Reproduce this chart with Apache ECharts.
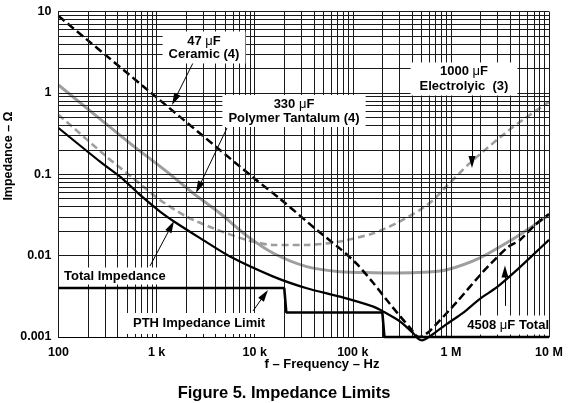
<!DOCTYPE html>
<html><head><meta charset="utf-8">
<script src="https://cdn.jsdelivr.net/npm/echarts@6/dist/echarts.min.js"></script>
<style>html,body{margin:0;padding:0;background:#fff}#c{width:572px;height:403px}</style>
</head><body><div id="c"></div>
<script>
// ---- axis ticks ----
const xTickValues = [100, 1e3, 1e4, 1e5, 1e6, 1e7];
const xTickLabels = ['100', '1 k', '10 k', '100 k', '1 M', '10 M'];
const yTickValues = [0.001, 0.01, 0.1, 1, 10];
const yTickLabels = ['0.001', '0.01', '0.1', '1', '10'];
const xDecades = [100, 1e3, 1e4, 1e5, 1e6];
const yDecades = [0.001, 0.01, 0.1, 1];
const gridMultipliers = [1, 2, 3, 4, 5, 6, 7, 8, 9];

// ---- series (frequency Hz, impedance Ohm) ----
const ceramicF = [100, 1000, 10000, 18100, 42900, 74000, 110000, 162000, 222000, 303000, 383000, 440000, 480000, 530000, 612000, 1150000, 2120000, 3730000, 5060000, 7200000, 10000000];
const ceramicZ = [8.8, 0.88, 0.088, 0.05, 0.0207, 0.0122, 0.0079, 0.0046, 0.00285, 0.0018, 0.0013, 0.00105, 0.001, 0.00105, 0.00119, 0.0027, 0.0063, 0.01245, 0.0156, 0.0238, 0.0325];

const tantalumF = [100, 537, 1268, 2366, 4426, 8350, 15500, 33900, 74000, 162000, 282000, 600000, 912000, 1980000, 4300000, 6400000, 10000000];
const tantalumZ = [1.25, 0.24, 0.1077, 0.0583, 0.0332, 0.0175, 0.0107, 0.00733, 0.00635, 0.00618, 0.0061, 0.0063, 0.0067, 0.0094, 0.016, 0.0219, 0.0316];

const electroF = [100, 310, 578, 1084, 2028, 3786, 8280, 15500, 33900, 74000, 162000, 282000, 484000, 662000, 831000, 1570000, 4300000, 10000000];
const electroZ = [0.54, 0.164, 0.0893, 0.0483, 0.0301, 0.0217, 0.0156, 0.0135, 0.0135, 0.0149, 0.0188, 0.0252, 0.0364, 0.0483, 0.0641, 0.138, 0.381, 0.775];

const totalF = [100, 265, 424, 678, 1084, 1603, 2775, 5610, 15500, 33900, 74000, 162000, 205000, 303000, 414000, 466000, 510000, 560000, 620000, 912000, 1330000, 1980000, 2950000, 4720000, 6870000, 10000000];
const totalZ = [0.37, 0.143, 0.0935, 0.0557, 0.0348, 0.025, 0.0164, 0.00973, 0.00552, 0.00397, 0.00313, 0.00236, 0.00205, 0.00155, 0.00111, 0.00095, 0.00091, 0.00095, 0.00103, 0.00145, 0.00198, 0.00294, 0.00409, 0.00667, 0.0102, 0.0156];

const pthF = [100, 20000, 21000, 200000, 210000, 10000000];
const pthZ = [0.004, 0.004, 0.002, 0.002, 0.001, 0.001];

// ---- annotation arrows: [fromF, fromZ, toF, toZ] ----
const arrowCeramic = [2350, 2.33, 1529, 0.827];
const arrowTantalum = [5225, 0.371, 2680, 0.0687];
const arrowElectro = [1640000, 0.942, 1640000, 0.1416];
const arrowTotal = [857, 0.00746, 1409, 0.02297];
const arrowPTH = [9616, 0.00209, 12590, 0.0033];
const arrowTotalCap = [3556000, 0.00241, 3556000, 0.0064];

const FONT = '"Liberation Sans", Arial, Helvetica, sans-serif';
const GRAY = '#9e9e9e';

function zip(f, z) { return f.map((v, i) => [v, z[i]]); }
function lookup(values, labels) {
  return function (v) {
    for (let i = 0; i < values.length; i++) {
      if (Math.abs(Math.log10(v) - Math.log10(values[i])) < 1e-6) return labels[i];
    }
    return '';
  };
}
const xGrid = [], yGrid = [];
xDecades.forEach(d => gridMultipliers.forEach(m => xGrid.push(m * d)));
xGrid.push(xTickValues[xTickValues.length - 1]);
yDecades.forEach(d => gridMultipliers.forEach(m => yGrid.push(m * d)));
yGrid.push(yTickValues[yTickValues.length - 1]);

function arrow(a) {
  return [{ coord: [a[0], a[1]], symbol: 'none' }, { coord: [a[2], a[3]], symbol: 'triangle' }];
}

const chart = echarts.init(document.getElementById('c'), null, { renderer: 'canvas' });
chart.setOption({
  animation: false,
  backgroundColor: '#fff',
  grid: { left: 58.5, right: 23, top: 11.5, bottom: 66, containLabel: false, outerBoundsMode: 'none', show: false },
  xAxis: {
    type: 'log', logBase: 10, min: 100, max: 1e7, splitNumber: 5,
    axisLine: { show: true, onZero: false, lineStyle: { color: '#000', width: 1 } },
    axisTick: { show: false }, splitLine: { show: false }, minorSplitLine: { show: false },
    axisLabel: { color: '#000', fontFamily: FONT, fontWeight: 'bold', fontSize: 12.5, margin: 9, formatter: lookup(xTickValues, xTickLabels), showMinLabel: true, showMaxLabel: true }
  },
  yAxis: {
    type: 'log', logBase: 10, min: 0.001, max: 10, splitNumber: 4,
    axisLine: { show: true, onZero: false, lineStyle: { color: '#000', width: 1 } },
    axisTick: { show: false }, splitLine: { show: false },
    axisLabel: { color: '#000', fontFamily: FONT, fontWeight: 'bold', fontSize: 12.5, margin: 7, formatter: lookup(yTickValues, yTickLabels), showMinLabel: true, showMaxLabel: true }
  },
  series: [
    {
      name: 'grid', type: 'line', z: 1, data: [[100, 10]], showSymbol: false, silent: true,
      lineStyle: { opacity: 0 },
      markLine: {
        silent: true, symbol: 'none', animation: false,
        label: { show: false },
        lineStyle: { color: '#1a1a1a', width: 1, type: 'solid' },
        emphasis: { disabled: true },
        data: xGrid.map(v => ({ xAxis: v })).concat(yGrid.map(v => ({ yAxis: v })))
      }
    },
    {
      name: '1000 uF Electrolytic', type: 'line', z: 3, data: zip(electroF, electroZ),
      showSymbol: false, smooth: 0.25,
      lineStyle: { color: GRAY, width: 2.6, type: [7, 4] }
    },
    {
      name: '330 uF Polymer Tantalum', type: 'line', z: 3, data: zip(tantalumF, tantalumZ),
      showSymbol: false, smooth: 0.25,
      lineStyle: { color: GRAY, width: 3 }
    },
    {
      name: '47 uF Ceramic', type: 'line', z: 4, data: zip(ceramicF, ceramicZ),
      showSymbol: false, smooth: 0.25,
      lineStyle: { color: '#000', width: 2.5, type: [8, 4] }
    },
    {
      name: 'Total Impedance', type: 'line', z: 5, data: zip(totalF, totalZ), clip: false,
      showSymbol: false, smooth: 0.25,
      lineStyle: { color: '#000', width: 2.2 }
    },
    {
      name: 'PTH Impedance Limit', type: 'line', z: 5, data: zip(pthF, pthZ), clip: false,
      showSymbol: false,
      lineStyle: { color: '#000', width: 2.6 },
      markLine: {
        silent: true, animation: false,
        symbolSize: [7, 12],
        label: { show: false },
        lineStyle: { color: '#000', width: 1, type: 'solid' },
        itemStyle: { color: '#000' },
        emphasis: { disabled: true },
        data: [arrow(arrowCeramic), arrow(arrowTantalum), arrow(arrowElectro), arrow(arrowTotal), arrow(arrowPTH), arrow(arrowTotalCap)]
      }
    }
  ],
  graphic: [
    { type: 'text', x: 204, y: 47.5, z: 100, style: { text: '47 {m|μ}F\nCeramic (4)', align: 'center', verticalAlign: 'middle', font: 'bold 13px ' + FONT, fill: '#000', lineHeight: 13, backgroundColor: '#fff', padding: [3, 6], rich: { m: { font: '13px ' + FONT, fill: '#000' } } } },
    { type: 'text', x: 294, y: 111, z: 100, style: { text: '330 {m|μ}F\nPolymer Tantalum (4)', align: 'center', verticalAlign: 'middle', font: 'bold 13px ' + FONT, fill: '#000', lineHeight: 14, backgroundColor: '#fff', padding: [2, 6], rich: { m: { font: '13px ' + FONT, fill: '#000' } } } },
    { type: 'text', x: 464, y: 79, z: 100, style: { text: '1000 {m|μ}F\nElectrolyic  (3)', align: 'center', verticalAlign: 'middle', font: 'bold 13px ' + FONT, fill: '#000', lineHeight: 14.5, backgroundColor: '#fff', padding: [2, 9], rich: { m: { font: '13px ' + FONT, fill: '#000' } } } },
    { type: 'text', x: 60, y: 276, z: 100, style: { text: 'Total Impedance', align: 'left', verticalAlign: 'middle', font: 'bold 13px ' + FONT, fill: '#000', backgroundColor: '#fff', padding: [2, 6, 2, 4] } },
    { type: 'text', x: 127, y: 323.5, z: 100, style: { text: 'PTH Impedance Limit', align: 'left', verticalAlign: 'middle', font: 'bold 13px ' + FONT, fill: '#000', backgroundColor: '#fff', padding: [4, 6] } },
    { type: 'text', x: 549, y: 325, z: 100, style: { text: '4508 {m|μ}F Total', align: 'right', verticalAlign: 'middle', font: 'bold 13px ' + FONT, fill: '#000', backgroundColor: '#fff', padding: [3, 0, 3, 6], rich: { m: { font: '13px ' + FONT, fill: '#000' } } } },
    { type: 'text', x: 322, y: 364, z: 100, style: { text: 'f – Frequency – Hz', align: 'center', verticalAlign: 'middle', font: 'bold 13px ' + FONT, fill: '#000' } },
    { type: 'text', x: 9, y: 156, z: 100, rotation: Math.PI / 2, style: { text: 'Impedance – Ω', align: 'center', verticalAlign: 'middle', font: 'bold 12.5px ' + FONT, fill: '#000' } },
    { type: 'text', x: 284, y: 393, z: 100, style: { text: 'Figure 5. Impedance Limits', align: 'center', verticalAlign: 'middle', font: 'bold 16.5px ' + FONT, fill: '#000' } }
  ]
});
</script>
</body></html>
